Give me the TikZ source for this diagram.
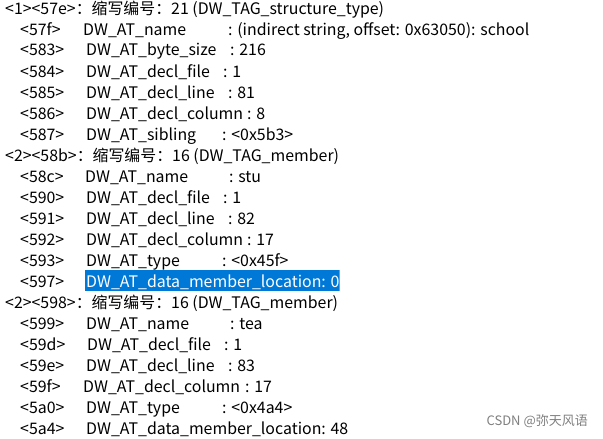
\documentclass[tikz,border=0pt]{standalone}
\usepackage{fontspec}
\setmainfont{Noto Sans CJK SC}
\begin{document}
\begin{tikzpicture}[x=1pt,y=-1pt,
  t/.style={anchor=base west,inner sep=0pt,font=\fontsize{15.9}{17}\selectfont}]
\useasboundingbox[fill=white] (0,0) rectangle (603,439);
\fill[fill={rgb,255:red,0;green,120;blue,215}] (85,270) rectangle (339,291);
\draw[orange,line width=1pt] (339,270) -- (339,291);
\node[t] (h1) at (5,14) {<1><57e>：缩写编号：21 (DW\_TAG\_structure\_type)};
\node[t] (a1) at (20,35) {<57f>}; \node[t] at (83,35) {DW\_AT\_name}; \node[t] at (228,35) {: (indirect string, offset: 0x63050): school};
\node[t] (a2) at (20,56) {<583>}; \node[t] at (86,56) {DW\_AT\_byte\_size}; \node[t] at (230,56) {: 216};
\node[t] (a3) at (20,77) {<584>}; \node[t] at (86,77) {DW\_AT\_decl\_file}; \node[t] at (223,77) {: 1};
\node[t] (a4) at (20,98) {<585>}; \node[t] at (86,98) {DW\_AT\_decl\_line}; \node[t] at (228,98) {: 81};
\node[t] (a5) at (20,119) {<586>}; \node[t] at (86,119) {DW\_AT\_decl\_column}; \node[t] at (247,119) {: 8};
\node[t] (a6) at (20,140) {<587>}; \node[t] at (86,140) {DW\_AT\_sibling}; \node[t] at (222,140) {: <0x5b3>};
\node[t] (h2) at (5,161) {<2><58b>：缩写编号：16 (DW\_TAG\_member)};
\node[t] (b1) at (20,182) {<58c>}; \node[t] at (85,182) {DW\_AT\_name}; \node[t] at (229,182) {: stu};
\node[t] (b2) at (20,203) {<590>}; \node[t] at (86,203) {DW\_AT\_decl\_file}; \node[t] at (223,203) {: 1};
\node[t] (b3) at (20,224) {<591>}; \node[t] at (86,224) {DW\_AT\_decl\_line}; \node[t] at (228,224) {: 82};
\node[t] (b4) at (20,245) {<592>}; \node[t] at (86,245) {DW\_AT\_decl\_column}; \node[t] at (247,245) {: 17};
\node[t] (b5) at (20,266) {<593>}; \node[t] at (86,266) {DW\_AT\_type}; \node[t] at (222,266) {: <0x45f>};
\node[t] (b6) at (20,287) {<597>}; \node[t,text=white] at (86,287) {DW\_AT\_data\_member\_location: 0};
\node[t] (h3) at (5,308) {<2><598>：缩写编号：16 (DW\_TAG\_member)};
\node[t] (c1) at (20,329) {<599>}; \node[t] at (86,329) {DW\_AT\_name}; \node[t] at (230,329) {: tea};
\node[t] (c2) at (20,350) {<59d>}; \node[t] at (87,350) {DW\_AT\_decl\_file}; \node[t] at (224,350) {: 1};
\node[t] (c3) at (20,371) {<59e>}; \node[t] at (86,371) {DW\_AT\_decl\_line}; \node[t] at (228,371) {: 83};
\node[t] (c4) at (20,392) {<59f>}; \node[t] at (83,392) {DW\_AT\_decl\_column}; \node[t] at (245,392) {: 17};
\node[t] (c5) at (20,413) {<5a0>}; \node[t] at (86,413) {DW\_AT\_type}; \node[t] at (222,413) {: <0x4a4>};
\node[t] (c6) at (20,434) {<5a4>}; \node[t] at (86,434) {DW\_AT\_data\_member\_location: 48};
\node[anchor=base east,inner sep=0pt,font=\fontsize{13}{14}\selectfont,text=gray] (wm) at (588,425) {CSDN @弥天风语};
\end{tikzpicture}
\end{document}
